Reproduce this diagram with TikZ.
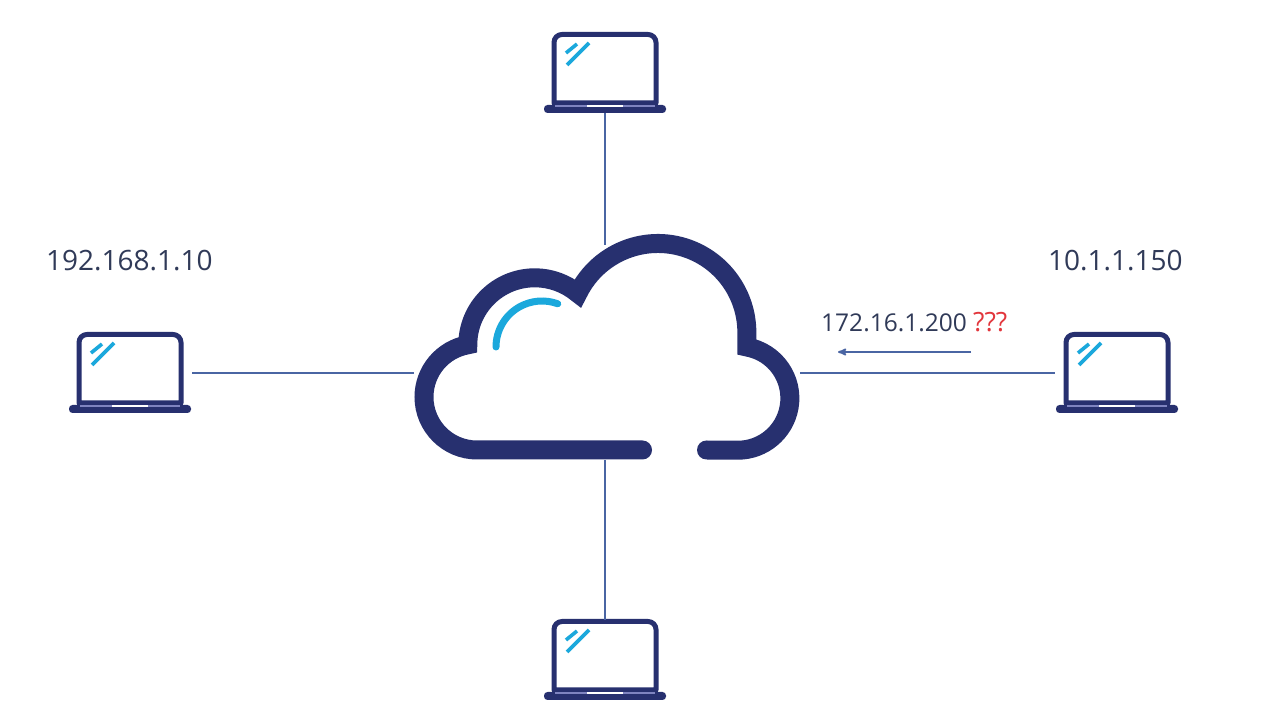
\documentclass[tikz,border=0pt]{standalone}
\usepackage{fontspec}
\setmainfont{Open Sans}
\usetikzlibrary{arrows}
\definecolor{navy}{HTML}{27306F}
\definecolor{skyblue}{HTML}{1BA8DC}
\definecolor{wire}{HTML}{4A65A3}
\definecolor{iptext}{HTML}{303A58}
\definecolor{lavender}{HTML}{7F84C0}
\definecolor{alert}{HTML}{E2363C}
\tikzset{
  x=1pt, y=1pt,
  laptopbox/.style={minimum width=124pt, minimum height=80pt, inner sep=0},
  cloudbox/.style={minimum width=386pt, minimum height=215pt, inner sep=0},
  iplabel/.style={anchor=base west, inner sep=0, text=iptext, font=\fontsize{28}{28}\selectfont},
  link/.style={wire, line width=1.2pt},
  arrow/.style={->,>=stealth', wire, line width=1.8pt},
  laptop/.pic={
    \draw[navy, line width=5pt, line join=round]
      (-51,-30) -- (-51,30.5) arc[start angle=180, end angle=90, radius=8]
      -- (43,38.5) arc[start angle=90, end angle=0, radius=8] -- (51,-30) -- cycle;
    \fill[navy, rounded corners=3.5pt] (-61,-40) rectangle (61,-32);
    \fill[lavender] (-50,-34.5) rectangle (50,-32);
    \fill[white] (-18,-34.5) rectangle (18,-32);
    \draw[skyblue, line width=3.6pt] (-39,20) -- (-28,29) (-38,8) -- (-16,30);
  }
}
\begin{document}
\begin{tikzpicture}
  \useasboundingbox (0,0) rectangle (1280,720);
  \fill[white] (0,0) rectangle (1280,720);
  \foreach \name/\pos in {lapT/{605,647}, lapB/{605,60}, lapL/{130,347}, lapR/{1117,347}} {
    \node[laptopbox] (\name) at (\pos) {};
    \pic at (\name) {laptop};
  }
  \node[cloudbox] (cloud) at (607,367.5) {};
  \draw[navy, line width=19pt, line cap=round, line join=miter]
    (642.5,270) -- (477,270)
    arc[start angle=-90, end angle=-260, radius=53]
    arc[start angle=180, end angle=50, radius=67]
    arc[start angle=154, end angle=0, radius=89]
    -- (746.9,373)
    arc[start angle=80, end angle=-90, radius=52]
    -- (706.5,270);
  \draw[skyblue, line width=7pt, line cap=round]
    (496,373) arc[start angle=180, end angle=70, radius=46];
  \draw[link] (lapT.south) -- (lapT.south |- cloud.north);
  \draw[link] (lapB.north) -- (lapB.north |- cloud.south);
  \draw[link] (lapL.east) -- (lapL.east -| cloud.west);
  \draw[link] (lapR.west) -- (lapR.west -| cloud.east);
  \node[iplabel] (ipL) at (46,449) {192.168.1.10};
  \node[iplabel] (ipR) at (1048,449) {10.1.1.150};
  \node[iplabel, font=\fontsize{24.5}{24.5}\selectfont] (ipS) at (821,388) {172.16.1.200 \textcolor{alert}{\fontsize{26.5}{26.5}\selectfont ???}};
  \coordinate (arrowstart) at (971,368);
  \coordinate (arrowend) at (838,368);
  \draw[arrow] (arrowstart) -- (arrowend);
\end{tikzpicture}
\end{document}
